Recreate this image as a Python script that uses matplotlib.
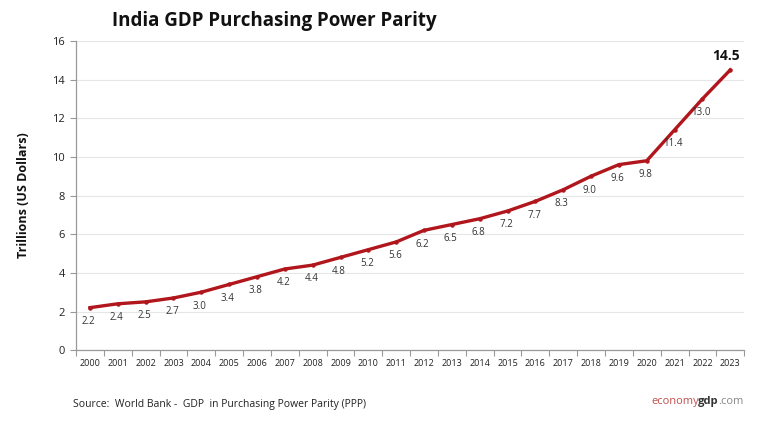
import matplotlib
matplotlib.use("Agg")
import matplotlib.pyplot as plt
from matplotlib.ticker import MultipleLocator, FixedLocator

years = list(range(2000, 2024))
year_labels = [str(y) for y in years]
gdp = [2.2, 2.4, 2.5, 2.7, 3.0, 3.4, 3.8, 4.2, 4.4, 4.8, 5.2, 5.6,
       6.2, 6.5, 6.8, 7.2, 7.7, 8.3, 9.0, 9.6, 9.8, 11.4, 13.0, 14.5]

plt.rcParams['font.family'] = ['Open Sans', 'DejaVu Sans']

fig = plt.figure(figsize=(7.68, 4.26), dpi=100)
ax = fig.add_axes([0.099, 0.178, 0.870, 0.726])

x = list(range(len(years)))
red = '#B0161C'
ax.plot(x, gdp, color=red, lw=2.4, marker='o', ms=2.2, solid_joinstyle='round', zorder=3)

ax.set_xlim(-0.5, len(years) - 0.5)
ax.set_ylim(0, 16)
ax.yaxis.set_major_locator(MultipleLocator(2))
ax.grid(axis='y', color='#E6E6E6', lw=0.8)
ax.set_axisbelow(True)

ax.set_xticks(x)
ax.set_xticklabels(year_labels, fontsize=6.5, color='#222222')
ax.tick_params(axis='x', length=0, pad=6)
ax.xaxis.set_minor_locator(FixedLocator([i - 0.5 for i in range(len(years) + 1)]))
ax.tick_params(axis='x', which='minor', length=4, color='#999999', width=0.8)
ax.tick_params(axis='y', length=4, color='#999999', width=0.8, labelsize=8, labelcolor='#222222', pad=4)

for s in ['top', 'right']:
    ax.spines[s].set_visible(False)
for s in ['left', 'bottom']:
    ax.spines[s].set_color('#999999')
    ax.spines[s].set_linewidth(0.9)

for i, v in enumerate(gdp):
    if i == len(gdp) - 1:
        ax.annotate(f"{v:.1f}", (i, v), xytext=(-3, 5), textcoords='offset points',
                    ha='center', va='bottom', fontsize=10, fontweight='bold', color='#111111')
    else:
        ax.annotate(f"{v:.1f}", (i, v), xytext=(-1, -6), textcoords='offset points',
                    ha='center', va='top', fontsize=7, color='#333333')

ax.set_ylabel('Trillions (US Dollars)', fontsize=9, fontweight='bold', color='#111111', labelpad=16)

fig.text(0.357, 0.95, 'India GDP Purchasing Power Parity', ha='center', va='center',
         fontsize=13.5, fontweight='bold', color='#111111')

fig.text(0.095, 0.05, 'Source:  World Bank -  GDP  in Purchasing Power Parity (PPP)',
         ha='left', va='center', fontsize=7.5, color='#222222')

# economygdp.com logo built from three pieces chained left to right
W = fig.bbox.width
t1 = fig.text(0.848, 0.052, 'economy', ha='left', va='baseline', fontsize=8, color='#C0504D')
fig.canvas.draw()
r = fig.canvas.get_renderer()
bb1 = t1.get_window_extent(r)
t2 = fig.text((bb1.x1 - 1) / W, 0.052, 'gdp', ha='left', va='baseline', fontsize=8,
              fontweight='bold', color='#333333')
fig.canvas.draw()
bb2 = t2.get_window_extent(r)
fig.text((bb2.x1 - 1) / W, 0.052, '.com', ha='left', va='baseline', fontsize=8, color='#888888')

fig.savefig('out.png', dpi=100)
